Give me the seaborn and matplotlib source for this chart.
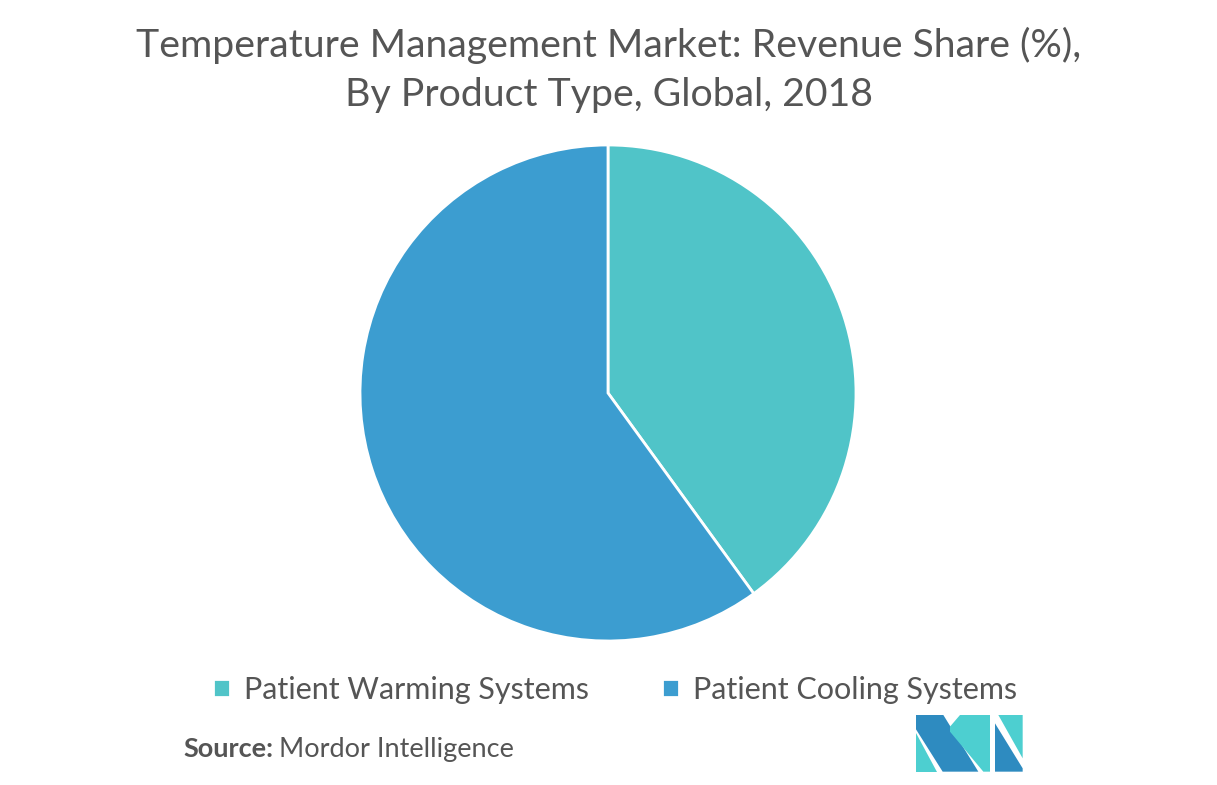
import matplotlib
matplotlib.use("Agg")
import matplotlib.pyplot as plt
from matplotlib.patches import Polygon
import seaborn as sns

categories = ["Patient Warming Systems", "Patient Cooling Systems"]
shares = [40, 60]
colors = ["#50C4C8", "#3C9DD0"]

sns.set_theme(style="white")
plt.rcParams["font.family"] = ["Lato", "DejaVu Sans"]

W, H = 1217, 785
fig = plt.figure(figsize=(W / 100, H / 100), dpi=100)
fig.patch.set_facecolor("white")

def px(x, y):
    return (x / W, 1 - y / H)

# pie
cx, cy, r = 608, 393, 248
ax = fig.add_axes([(cx - r) / W, 1 - (cy + r) / H, 2 * r / W, 2 * r / H])
wedges, _ = ax.pie(shares, colors=colors, startangle=90, counterclock=False,
                   wedgeprops=dict(edgecolor="white", linewidth=2))
ax.set_xlim(-1, 1)
ax.set_ylim(-1, 1)
ax.set_aspect("equal")
ax.axis("off")

# title
fig.text(*px(609, 45), "Temperature Management Market: Revenue Share (%),",
         ha="center", va="center", fontsize=28.3, color="#555555")
fig.text(*px(609, 95), "By Product Type, Global, 2018",
         ha="center", va="center", fontsize=28.3, color="#555555")

# legend
leg = fig.legend(wedges, categories, loc="center", bbox_to_anchor=px(615, 690),
                 ncol=2, frameon=False, fontsize=22, handlelength=0.55,
                 handleheight=0.55, columnspacing=2.4, handletextpad=0.45)
for t in leg.get_texts():
    t.set_color("#555555")

# source
t1 = fig.text(*px(183, 749), "Source:", ha="left", va="center",
              fontsize=19.5, fontweight="bold", color="#555555")
fig.canvas.draw()
bb = t1.get_window_extent()
fig.text((bb.x1 + 6) / W, 1 - 749 / H, "Mordor Intelligence", ha="left",
         va="center", fontsize=19.5, color="#555555")

# logo
dark, teal = "#2E8BC0", "#4DCFD0"
ox, oy = 900, 700
shapes = [
    (teal, [(48, 100), (48, 215), (112, 215)]),
    (dark, [(48, 45), (130, 45), (235, 215), (128, 215), (48, 88)]),
    (teal, [(150, 80), (180, 45), (270, 45), (270, 215), (250, 215), (150, 95)]),
    (teal, [(285, 45), (368, 45), (368, 175), (295, 45)]),
    (dark, [(285, 70), (368, 205), (368, 215), (285, 215)]),
]
for c, pts in shapes:
    poly = [px(ox + x / 3, oy + y / 3) for x, y in pts]
    fig.patches.append(Polygon(poly, closed=True, facecolor=c, edgecolor="none",
                               transform=fig.transFigure, figure=fig))

fig.savefig("out.png", dpi=100, facecolor="white")
